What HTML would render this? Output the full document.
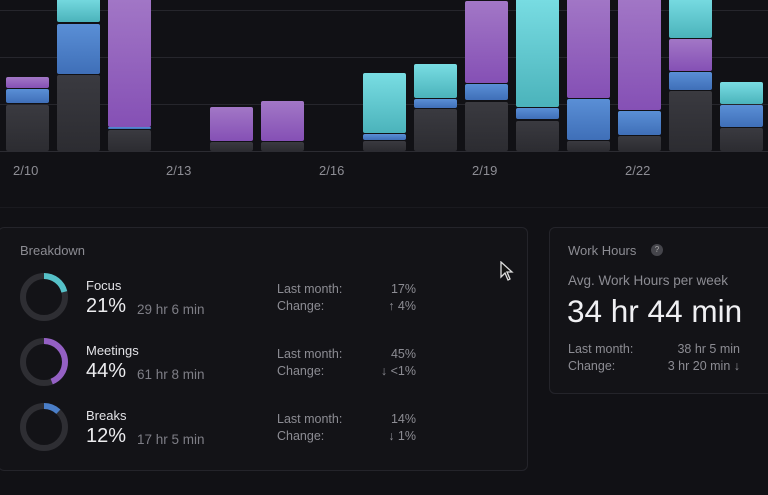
<!DOCTYPE html>
<html><head><meta charset="utf-8"><style>
*{margin:0;padding:0;box-sizing:border-box}
body{width:768px;height:495px;background:#111115;overflow:hidden;position:relative;font-family:"Liberation Sans",sans-serif;color:#9a9aa2}
.a{position:absolute;white-space:nowrap}
.g{position:absolute;left:0;width:768px;height:1px;background:#26262c}
.b{position:absolute;width:43px;border-radius:2px}
.p{background:linear-gradient(#a277c6,#8550b5)}
.bl{background:linear-gradient(#5a8fd6,#3f6fb8)}
.t{background:linear-gradient(#79dde3,#4bb3bb)}
.k{background:linear-gradient(#3a3a40,#2c2c31)}
.xl{font-size:13px;color:#8d8d94;top:163px}
.panel{position:absolute;border:1px solid #24242a;border-radius:6px;background:#131317}
.sm{font-size:12.5px;color:#8c8c93}
.nm{font-size:13px;color:#e2e2e6}
.pc{font-size:20px;color:#ececef}
.hr{font-size:13.5px;color:#7e7e86}
</style></head><body>
<div class="g" style="top:10px"></div>
<div class="g" style="top:57px"></div>
<div class="g" style="top:104px"></div>
<div class="g" style="top:151px;background:#2c2c32"></div>
<div class="g" style="top:207px;background:#1a1a1f"></div>

<div class="b p" style="left:6px;top:77px;height:11px"></div>
<div class="b bl" style="left:6px;top:89px;height:14px"></div>
<div class="b k" style="left:6px;top:105px;height:46px"></div>

<div class="b t" style="left:57px;top:-3px;height:25px"></div>
<div class="b bl" style="left:57px;top:24px;height:50px"></div>
<div class="b k" style="left:57px;top:75px;height:76px"></div>

<div class="b p" style="left:108px;top:-3px;height:130px"></div>
<div class="b bl" style="left:108px;top:127px;height:2px"></div>
<div class="b k" style="left:108px;top:130px;height:21px"></div>

<div class="b p" style="left:210px;top:107px;height:34px"></div>
<div class="b k" style="left:210px;top:142px;height:9px"></div>

<div class="b p" style="left:261px;top:101px;height:40px"></div>
<div class="b k" style="left:261px;top:142px;height:9px"></div>

<div class="b t" style="left:363px;top:73px;height:60px"></div>
<div class="b bl" style="left:363px;top:134px;height:6px"></div>
<div class="b k" style="left:363px;top:141px;height:10px"></div>

<div class="b t" style="left:414px;top:64px;height:34px"></div>
<div class="b bl" style="left:414px;top:99px;height:9px"></div>
<div class="b k" style="left:414px;top:109px;height:42px"></div>

<div class="b p" style="left:465px;top:1px;height:82px"></div>
<div class="b bl" style="left:465px;top:84px;height:16px"></div>
<div class="b k" style="left:465px;top:102px;height:49px"></div>

<div class="b t" style="left:516px;top:-3px;height:110px"></div>
<div class="b bl" style="left:516px;top:108px;height:11px"></div>
<div class="b k" style="left:516px;top:121px;height:30px"></div>

<div class="b p" style="left:567px;top:-3px;height:101px"></div>
<div class="b bl" style="left:567px;top:99px;height:41px"></div>
<div class="b k" style="left:567px;top:141px;height:10px"></div>

<div class="b p" style="left:618px;top:-3px;height:113px"></div>
<div class="b bl" style="left:618px;top:111px;height:24px"></div>
<div class="b k" style="left:618px;top:136px;height:15px"></div>

<div class="b t" style="left:669px;top:-3px;height:41px"></div>
<div class="b p" style="left:669px;top:39px;height:32px"></div>
<div class="b bl" style="left:669px;top:72px;height:18px"></div>
<div class="b k" style="left:669px;top:91px;height:60px"></div>

<div class="b t" style="left:720px;top:82px;height:22px"></div>
<div class="b bl" style="left:720px;top:105px;height:22px"></div>
<div class="b k" style="left:720px;top:128px;height:23px"></div>

<div class="a xl" style="left:13px">2/10</div>
<div class="a xl" style="left:166px">2/13</div>
<div class="a xl" style="left:319px">2/16</div>
<div class="a xl" style="left:472px">2/19</div>
<div class="a xl" style="left:625px">2/22</div>

<div class="panel" style="left:-2px;top:227px;width:530px;height:244px"></div>
<div class="a" style="left:20px;top:243px;font-size:13px;color:#8c8c93">Breakdown</div>
<svg class="a" style="left:0;top:0" width="100" height="495">
<g fill="none" stroke-width="6">
<circle cx="44" cy="297" r="21" stroke="#2e2e33"/>
<circle cx="44" cy="297" r="21" stroke="#56c1c8" stroke-dasharray="27.7 200" transform="rotate(-90 44 297)"/>
<circle cx="44" cy="362" r="21" stroke="#2e2e33"/>
<circle cx="44" cy="362" r="21" stroke="#9460c4" stroke-dasharray="58 200" transform="rotate(-90 44 362)"/>
<circle cx="44" cy="427" r="21" stroke="#2e2e33"/>
<circle cx="44" cy="427" r="21" stroke="#4a7ec8" stroke-dasharray="15.8 200" transform="rotate(-90 44 427)"/>
</g></svg>
<div class="a nm" style="left:86px;top:278px">Focus</div>
<div class="a pc" style="left:86px;top:295px">21%</div>
<div class="a hr" style="left:137px;top:302px">29 hr 6 min</div>
<div class="a nm" style="left:86px;top:343px">Meetings</div>
<div class="a pc" style="left:86px;top:360px">44%</div>
<div class="a hr" style="left:137px;top:367px">61 hr 8 min</div>
<div class="a nm" style="left:86px;top:408px">Breaks</div>
<div class="a pc" style="left:86px;top:425px">12%</div>
<div class="a hr" style="left:137px;top:432px">17 hr 5 min</div>

<div class="a sm" style="left:277px;top:281px;line-height:16.5px">Last month:<br>Change:</div>
<div class="a sm" style="left:336px;width:80px;text-align:right;top:281px;line-height:16.5px">17%<br>↑ 4%</div>
<div class="a sm" style="left:277px;top:346px;line-height:16.5px">Last month:<br>Change:</div>
<div class="a sm" style="left:336px;width:80px;text-align:right;top:346px;line-height:16.5px">45%<br>↓ &lt;1%</div>
<div class="a sm" style="left:277px;top:411px;line-height:16.5px">Last month:<br>Change:</div>
<div class="a sm" style="left:336px;width:80px;text-align:right;top:411px;line-height:16.5px">14%<br>↓ 1%</div>

<svg class="a" style="left:500px;top:261px" width="14" height="22"><path d="M1 1 L1 16 L5 12 L8 19 L10 18 L7 11 L12 11 Z" fill="#111" stroke="#ddd" stroke-width="1.3"/></svg>

<div class="panel" style="left:549px;top:227px;width:230px;height:167px"></div>
<div class="a" style="left:568px;top:243px;font-size:13px;color:#8c8c93">Work Hours</div>
<div class="a" style="left:651px;top:244px;width:12px;height:12px;border-radius:50%;background:#45454b;color:#aaa;font-size:8px;text-align:center;line-height:12px">?</div>
<div class="a" style="left:568px;top:273px;font-size:13.5px;color:#8c8c93">Avg. Work Hours per week</div>
<div class="a" style="left:567px;top:293px;font-size:31.5px;color:#f0f0f3">34 hr 44 min</div>
<div class="a sm" style="left:568px;top:341px;line-height:16.5px">Last month:<br>Change:</div>
<div class="a sm" style="left:640px;width:100px;text-align:right;top:341px;line-height:16.5px">38 hr 5 min<br>3 hr 20 min ↓</div>
</body></html>
